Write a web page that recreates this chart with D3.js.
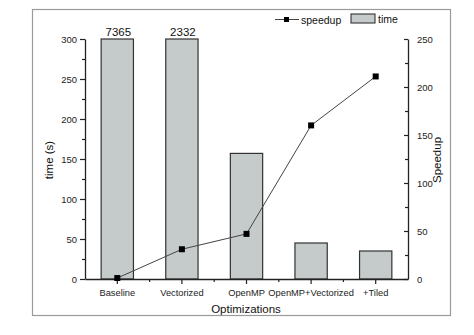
<!DOCTYPE html>
<html><head><meta charset="utf-8">
<script src="https://cdn.jsdelivr.net/npm/d3@7"></script>
<style>body{margin:0;background:#fff}svg{display:block;font-family:"Liberation Sans",Arial,sans-serif}</style>
</head><body><svg id="c" width="474" height="335"></svg>
<script>
const categories = ["Baseline","Vectorized","OpenMP","OpenMP+Vectorized","+Tiled"];
const timeValues = [7365, 2332, 157, 45, 35];
const speedupValues = [1, 31, 47, 160, 211];
const timeTicks = [0,50,100,150,200,250,300];
const timeMinor = [25,75,125,175,225,275];
const speedTicks = [0,50,100,150,200,250];
const speedMinor = [25,75,125,175,225];
const timeMax = 300, speedMax = 250;

const svg = d3.select("#c");
const L = 85, R = 408, T = 39, B = 279;
const x = d3.scaleBand().domain(categories).range([L, R]).padding(0);
const yL = d3.scaleLinear().domain([0, timeMax]).range([B, T]);
const yR = d3.scaleLinear().domain([0, speedMax]).range([B, T]);
const axisCol = "#222";

svg.append("rect").attr("x",32.5).attr("y",9.5).attr("width",418).attr("height",306)
  .attr("fill","none").attr("stroke","#9a9a9a").attr("stroke-width",1.2);

// bars
const bw = x.bandwidth()*0.5;
svg.append("g").selectAll("rect").data(categories).join("rect")
  .attr("x",(d)=>x(d)+x.bandwidth()*0.25)
  .attr("width",bw)
  .attr("y",(d,i)=>yL(Math.min(timeValues[i],timeMax)))
  .attr("height",(d,i)=>B-yL(Math.min(timeValues[i],timeMax)))
  .attr("fill","#c5cbcb").attr("stroke","#333").attr("stroke-width",1.2);

svg.append("g").selectAll("text").data(categories.filter((d,i)=>timeValues[i]>timeMax)).join("text")
  .attr("x",d=>x(d)+x.bandwidth()/2+1).attr("y",yL(timeMax)-3)
  .attr("text-anchor","middle").attr("font-size","11.5px").attr("fill","#111")
  .text(d=>timeValues[categories.indexOf(d)]);

function styleAxis(g){
  g.select(".domain").attr("stroke",axisCol).attr("stroke-width",1.3);
  g.selectAll(".tick line").attr("stroke",axisCol).attr("stroke-width",1.2);
  g.selectAll(".tick text").attr("fill","#222").style("font-size","9.5px").style("font-family","'Liberation Sans',Arial,sans-serif");
}
// left axis
const gl = svg.append("g").attr("transform",`translate(${L},0)`)
  .call(d3.axisLeft(yL).tickValues(timeTicks).tickSize(5).tickPadding(3).tickSizeOuter(0));
styleAxis(gl);
const glm = svg.append("g").attr("transform",`translate(${L},0)`)
  .call(d3.axisLeft(yL).tickValues(timeMinor).tickSize(3).tickFormat("").tickSizeOuter(0));
styleAxis(glm); glm.select(".domain").remove();
// right axis
const gr = svg.append("g").attr("transform",`translate(${R},0)`)
  .call(d3.axisRight(yR).tickValues(speedTicks).tickSizeInner(-4).tickPadding(9).tickSizeOuter(0));
styleAxis(gr);
const grm = svg.append("g").attr("transform",`translate(${R},0)`)
  .call(d3.axisRight(yR).tickValues(speedMinor).tickSizeInner(-3).tickFormat("").tickSizeOuter(0));
styleAxis(grm); grm.select(".domain").remove();
// bottom axis
const gb = svg.append("g").attr("transform",`translate(0,${B})`)
  .call(d3.axisBottom(x).tickSize(5).tickPadding(5).tickSizeOuter(0));
styleAxis(gb);
gb.selectAll(".tick text").style("font-size","9.3px");
const bounds = categories.slice(1).map(c=>x(c));
svg.append("g").selectAll("line").data(bounds).join("line")
  .attr("x1",d=>d).attr("x2",d=>d).attr("y1",B).attr("y2",B+3)
  .attr("stroke",axisCol).attr("stroke-width",1.2);

// speedup line
const line = d3.line().x((d,i)=>x(categories[i])+x.bandwidth()/2).y(d=>yR(d));
svg.append("path").datum(speedupValues).attr("d",line)
  .attr("fill","none").attr("stroke","#444").attr("stroke-width",1);
svg.append("g").selectAll("rect").data(speedupValues).join("rect")
  .attr("x",(d,i)=>x(categories[i])+x.bandwidth()/2-3)
  .attr("y",d=>yR(d)-3).attr("width",6).attr("height",6).attr("fill","#000");

// axis titles
svg.append("text").attr("x",246).attr("y",313).attr("text-anchor","middle")
  .attr("font-size","11.5px").attr("fill","#111").text("Optimizations");
svg.append("text").attr("transform","translate(53,160) rotate(-90)").attr("text-anchor","middle")
  .attr("font-size","11.5px").attr("fill","#111").text("time (s)");
svg.append("text").attr("transform","translate(441,160) rotate(-90)").attr("text-anchor","middle")
  .attr("font-size","11.5px").attr("fill","#111").text("Speedup");

// legend
const lg = svg.append("g");
lg.append("line").attr("x1",275).attr("x2",299).attr("y1",19.5).attr("y2",19.5).attr("stroke","#444").attr("stroke-width",1);
lg.append("rect").attr("x",284).attr("y",17).attr("width",5).attr("height",5).attr("fill","#000");
lg.append("text").attr("x",301).attr("y",23.5).attr("font-size","10.5px").attr("fill","#111").text("speedup");
lg.append("rect").attr("x",351).attr("y",14).attr("width",24).attr("height",9)
  .attr("fill","#c5cbcb").attr("stroke","#333").attr("stroke-width",1.1);
lg.append("text").attr("x",378).attr("y",23).attr("font-size","10.5px").attr("fill","#111").text("time");
</script></body></html>
